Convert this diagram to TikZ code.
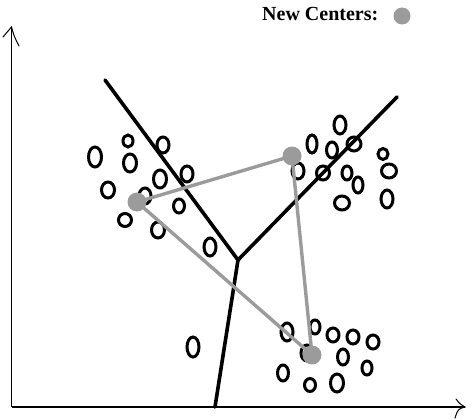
\documentclass[tikz,border=0pt]{standalone}
\usepackage{fontspec}
\setmainfont{Liberation Serif}
\begin{document}
\begin{tikzpicture}[x=1pt,y=-1pt,
  ell/.style={draw=black, line width=3pt, ellipse, inner sep=0pt},
  vor/.style={draw=black, line width=3.6pt, line cap=round},
  axis/.style={draw=black, line width=1.3pt},
  tick/.style={draw=black, line width=1pt, line cap=round},
  link/.style={draw=cgray, line width=3.4pt},
  center/.style={circle, fill=cgray, minimum size=19pt, inner sep=0pt},
  legtext/.style={font=\fontsize{20}{21}\selectfont\bfseries, inner sep=0pt, anchor=base west}]
\usetikzlibrary{shapes.geometric}
\definecolor{cgray}{RGB}{155,155,155}
\useasboundingbox (0,0) rectangle (474,420);
% axes
\coordinate (o) at (11.5,407);
\coordinate (ytop) at (11.5,27);
\coordinate (xend) at (465,407);
\draw[axis] (o) -- (ytop);
\draw[axis] (o) -- (xend);
\coordinate (yl) at (3,37);
\coordinate (yr) at (19,46);
\coordinate (xu) at (456,399);
\coordinate (xd) at (455,418);
\draw[tick] (yl) -- (ytop) .. controls (14,36) .. (yr);
\draw[tick] (xu) .. controls (460,404) .. (xend) .. controls (458,409) .. (xd);
% data points
\foreach \x/\y/\w/\h [count=\i] in {
  95/157/15/22, 128/141/12/14, 130/163/15/20, 163/145/14/18, 160/179/15/20,
  187/174/14/18, 108/190/15/18, 145/196/14/18, 125/220/15/15, 158/230/15/18,
  179/206/13/16, 210/247/14/20,
  340/125/14/20, 312/144/12/20, 332/150/13/18, 354/144/16/16, 383/154/12/13,
  298/171/14/18, 323/173/15/16, 347/173/12/16, 358/185/12/18, 389/171/17/16,
  342/203/17/16, 387/199/14/20,
  193/347/14/22, 287/332/14/20, 315/327/12/16, 333/335/14/16, 353/337/14/16,
  373/342/14/16, 343/357/13/18, 367/368/12/16, 283/373/13/18, 310/385/13/15,
  337/383/15/20, 307/353/14/18}
  \node[ell, minimum width=\w pt-2pt, minimum height=\h pt-2pt] (e\i) at (\x,\y) {};
% voronoi boundaries
\coordinate (j) at (238,260);
\coordinate (v1) at (105,80);
\coordinate (v2) at (397,97);
\coordinate (v3) at (215,407);
\draw[vor] (v1) -- (j);
\draw[vor] (v2) -- (j);
\draw[vor] (v3) -- (j);
% centers
\coordinate (p1) at (137,202);
\coordinate (p2) at (292,156);
\coordinate (p3) at (312,355);
\draw[link] (p1) -- (p2) -- (p3) -- cycle;
\node[center] (c1) at (p1) {};
\node[center] (c2) at (p2) {};
\node[center] (c3) at (p3) {};
% legend
\node[legtext] (lt) at (262,21) {New Centers:};
\node[center, minimum size=17pt] (lc) at (402,16) {};
\end{tikzpicture}
\end{document}
